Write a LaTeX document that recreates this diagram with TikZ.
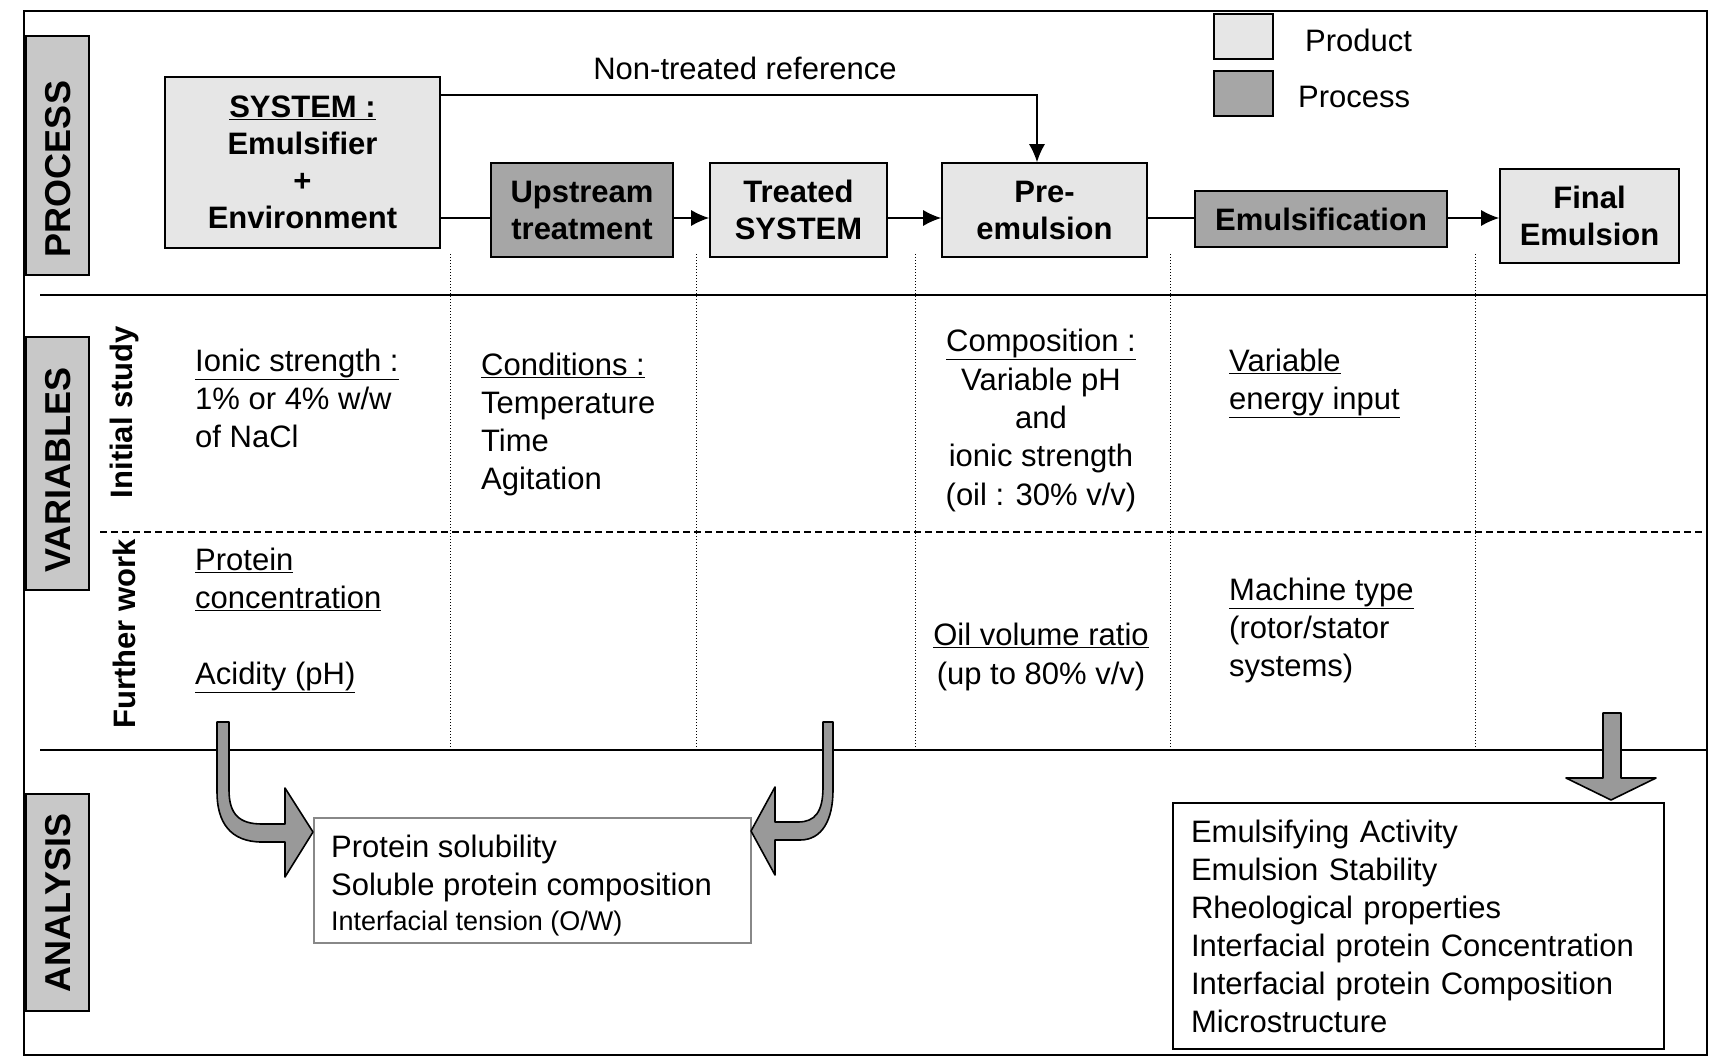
\documentclass[tikz,border=0pt]{standalone}
\usepackage{fontspec}
\setmainfont{Liberation Sans}
\usetikzlibrary{arrows.meta,calc}
\definecolor{prodgray}{HTML}{E6E6E6}
\definecolor{procgray}{HTML}{A6A6A6}
\definecolor{sidegray}{HTML}{C8C8C8}
\definecolor{arrgray}{HTML}{999999}
\definecolor{boxline}{HTML}{888888}
\begin{document}
\begin{tikzpicture}[x=1pt,y=-1pt,
  prodbox/.style={draw, line width=1.6pt, fill=prodgray, align=center, inner sep=0pt,
    font=\bfseries\fontsize{31}{37}\selectfont},
  procbox/.style={prodbox, fill=procgray},
  sidebox/.style={draw, line width=1.6pt, fill=sidegray, inner sep=0pt},
  sidetext/.style={rotate=90, inner sep=0pt, font=\bfseries\fontsize{36}{40}\selectfont},
  rowlabel/.style={rotate=90, inner sep=0pt, font=\bfseries\fontsize{31}{37}\selectfont},
  txt/.style={inner sep=0pt, align=left, font=\fontsize{31}{38}\selectfont},
  ctxt/.style={inner sep=0pt, align=center, font=\fontsize{31}{38.3}\selectfont},
  flowline/.style={line width=1.5pt},
  flowarrow/.style={line width=1.5pt, -{Latex[length=18pt,width=16pt]}},
  sepline/.style={line width=1.8pt},
  colsep/.style={line width=0.9pt, dash pattern=on 1pt off 2pt},
  rowsep/.style={line width=1.4pt, dash pattern=on 7pt off 4pt},
  blockarrow/.style={fill=arrgray, draw=black, line width=1.6pt, line join=round}
]
\useasboundingbox (0,0) rectangle (1714,1063);
\fill[white] (0,0) rectangle (1714,1063);

% outer frame
\draw[line width=2.6pt] (24,11) rectangle (1707,1055);

% separators
\draw[sepline] (40,295) -- (1706,295);
\draw[sepline] (40,750) -- (1706,750);
\draw[rowsep] (100,532) -- (1706,532);
\foreach \cx in {450,696,915,1170,1475}
  \draw[colsep] (\cx,254) -- (\cx,750);

% side labels
\node[sidebox, minimum width=63, minimum height=239] (lproc) at (57.5,155.5) {};
\node[sidebox, minimum width=63, minimum height=253] (lvar) at (57.5,463.5) {};
\node[sidebox, minimum width=63, minimum height=217] (lana) at (57.5,902.5) {};
\node[sidetext] (lproct) at (58,169) {PROCESS};
\node[sidetext] (lvart) at (58,470) {VARIABLES};
\node[sidetext] (lanat) at (58,903) {ANALYSIS};

% legend
\node[prodbox, minimum width=59, minimum height=45] (legprod) at (1243.5,36.5) {};
\node[procbox, minimum width=59, minimum height=45] (legproc) at (1243.5,93.5) {};
\node[txt, anchor=west] (legprodt) at (1305,40) {Product};
\node[txt, anchor=west] (legproct) at (1298,97) {Process};

% process chain
\node[prodbox, minimum width=275, minimum height=171] (sys) at (302.5,162.5)
  {\underline{SYSTEM :}\\Emulsifier\\+\\Environment};
\node[procbox, minimum width=182, minimum height=94] (ups) at (582,210) {Upstream\\treatment};
\node[prodbox, minimum width=177, minimum height=94] (trt) at (798.5,210) {Treated\\SYSTEM};
\node[prodbox, minimum width=205, minimum height=94] (pre) at (1044.5,210) {Pre-\\emulsion};
\node[procbox, minimum width=252, minimum height=56] (emu) at (1321,219) {Emulsification};
\node[prodbox, minimum width=179, minimum height=94] (fin) at (1589.5,216) {Final\\Emulsion};

\node[txt] (ntlabel) at (745,68) {Non-treated reference};

\coordinate (fy) at (0,218);
\coordinate (nt) at (1037,95);
\draw[flowline] (sys.east |- fy) -- (ups.west |- fy);
\draw[flowarrow] (ups.east |- fy) -- (trt.west |- fy);
\draw[flowarrow] (trt.east |- fy) -- (pre.west |- fy);
\draw[flowline] (pre.east |- fy) -- (emu.west |- fy);
\draw[flowarrow] (emu.east |- fy) -- (fin.west |- fy);
\draw[flowarrow] (sys.east |- nt) -| (pre.north -| nt);

% row labels
\node[rowlabel] (initial) at (124,412) {Initial study};
\node[rowlabel] (further) at (124,634) {Further work};

% variables, initial study (anchor = baseline of last line)
\node[txt, anchor=base west] (v1a) at (195,447)
  {\underline{Ionic strength :}\\1\% or 4\% w/w\\of NaCl};
\node[txt, anchor=base west] (v2a) at (481,489)
  {\underline{Conditions :}\\Temperature\\Time\\Agitation};
\node[ctxt, anchor=base] (v3a) at (1041,505)
  {\underline{Composition :}\\Variable pH\\and\\ionic strength\\(oil : 30\% v/v)};
\node[txt, anchor=base west] (v4a) at (1229,409)
  {\underline{Variable}\\\underline{energy input}};

% variables, further work
\node[txt, anchor=base west] (v1b) at (195,684)
  {\underline{Protein}\\\underline{concentration}\\[38pt]\underline{Acidity (pH)}};
\node[ctxt, anchor=base] (v3b) at (1041,684)
  {\underline{Oil volume ratio}\\(up to 80\% v/v)};
\node[txt, anchor=base west] (v4b) at (1229,676)
  {\underline{Machine type}\\(rotor/stator\\systems)};

% analysis boxes
\node[draw=boxline, line width=1.6pt, fill=white, minimum width=437, minimum height=125]
  (anal1) at (532.5,880.5) {};
\node[txt, anchor=base west] (anal1t) at (331,930)
  {Protein solubility\\Soluble protein composition\\[-3pt]{\fontsize{27}{35}\selectfont Interfacial tension (O/W)}};
\node[draw=black, line width=1.6pt, fill=white, inner xsep=18pt, inner ysep=0pt,
  text width=455, align=left, minimum height=246, font=\fontsize{31}{38}\selectfont]
  (anal2) at (1418.5,926)
  {Emulsifying Activity\\Emulsion Stability\\Rheological properties\\Interfacial protein Concentration\\Interfacial protein Composition\\Microstructure};

% block arrows
\draw[blockarrow] (217,722) -- (229,722) -- (229,790)
  .. controls (229,815) and (240,824) .. (262,824) -- (285,824) -- (285,788)
  -- (313,832) -- (285,877) -- (285,842) -- (262,842)
  .. controls (230,842) and (217,822) .. (217,792) -- cycle;
\draw[blockarrow] (833,722) -- (823,722) -- (823,787)
  .. controls (823,812) and (815,822) .. (798,822) -- (775,822) -- (775,787)
  -- (751,831) -- (775,875) -- (775,840) -- (800,840)
  .. controls (822,840) and (833,820) .. (833,790) -- cycle;
\draw[blockarrow] (1603,713) -- (1621,713) -- (1621,778) -- (1656,778)
  -- (1611,800) -- (1566,778) -- (1603,778) -- cycle;
\end{tikzpicture}
\end{document}
